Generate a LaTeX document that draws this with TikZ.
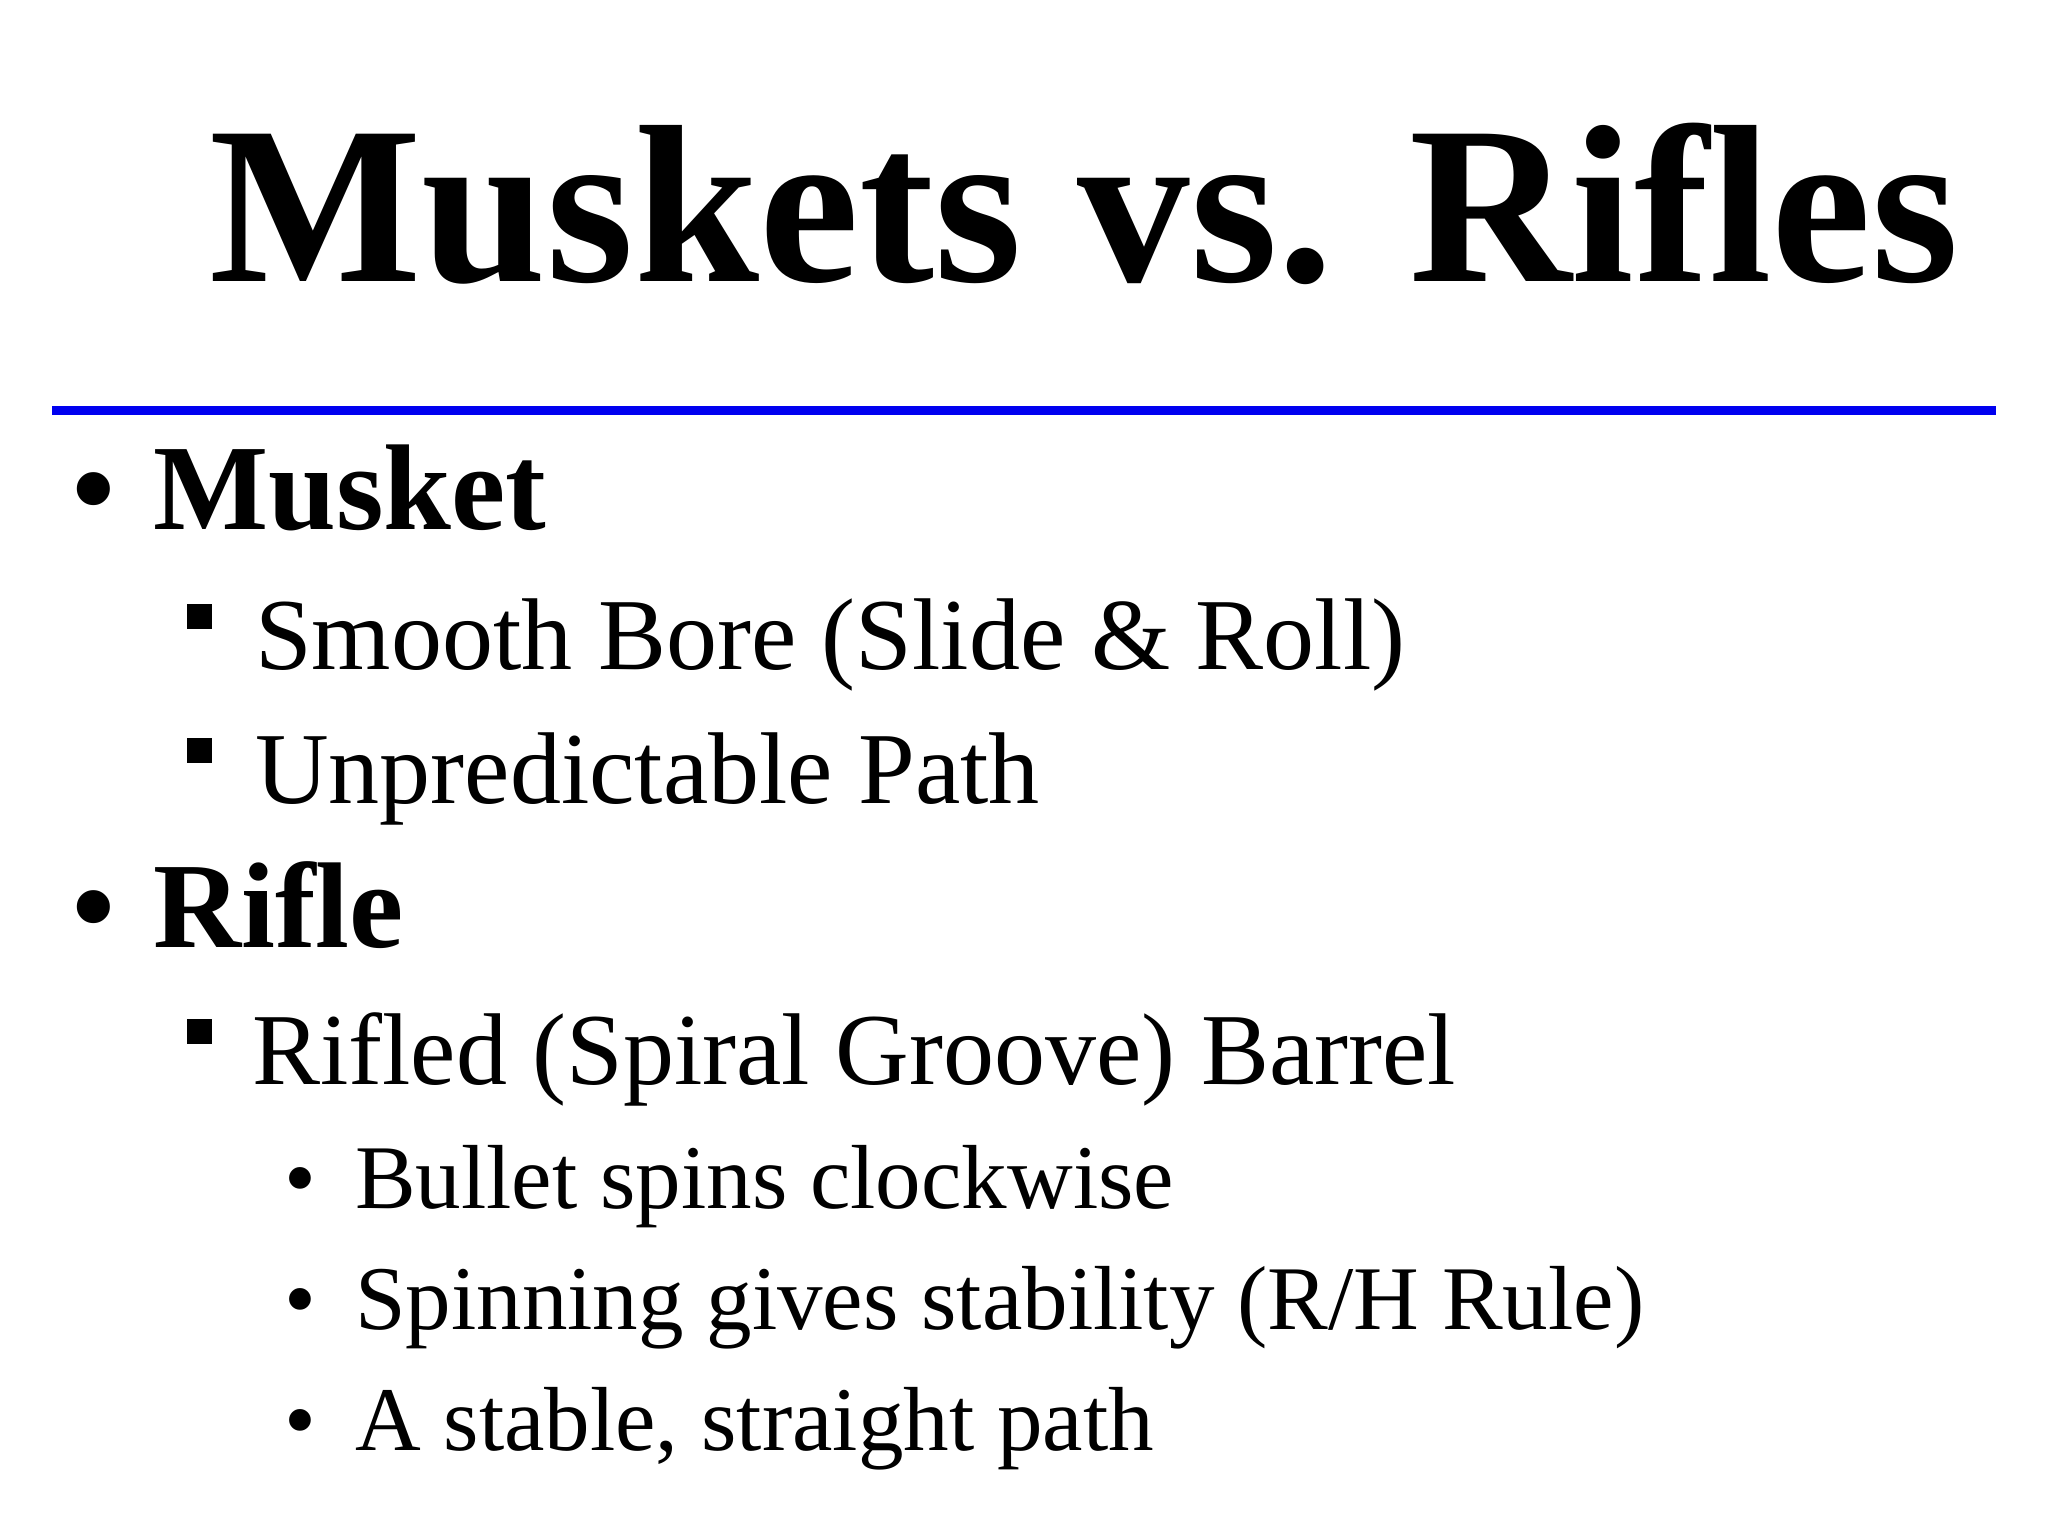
\documentclass[tikz,border=0pt]{standalone}
\usepackage{fontspec}
\setmainfont{Liberation Serif}
\begin{document}
\begin{tikzpicture}[x=1pt,y=-1pt,
  t/.style={anchor=base west,inner sep=0pt},
  lone/.style={t,font=\fontsize{122}{130}\selectfont\bfseries},
  ltwo/.style={t,font=\fontsize{102}{110}\selectfont},
  lthree/.style={t,font=\fontsize{91}{96}\selectfont},
  sq/.style={fill=black,inner sep=0pt,minimum size=25pt,anchor=center}]
\useasboundingbox[fill=white] (0,0) rectangle (2048,1536);
\node[t,font=\fontsize{225}{230}\selectfont\bfseries] (title) at (209,281) {Muskets vs. Rifles};
\draw[line width=9pt,draw={rgb,255:red,0;green,0;blue,240}] (52,410) -- (1996,410);
\node[lone] (b1) at (72,529) {\textbullet};
\node[lone] (musket) at (153,529) {Musket};
\node[sq] (s1) at (199,616) {};
\node[ltwo] (smooth) at (255,669) {Smooth Bore (Slide \& Roll)};
\node[sq] (s2) at (199,750) {};
\node[ltwo] (unpred) at (255,803) {Unpredictable Path};
\node[lone] (b2) at (72,947) {\textbullet};
\node[lone] (rifle) at (153,947) {Rifle};
\node[sq] (s3) at (199,1031) {};
\node[ltwo] (rifled) at (252,1084) {Rifled (Spiral Groove) Barrel};
\node[lthree] (c1) at (284,1208) {\textbullet};
\node[lthree] (bullet) at (355,1208) {Bullet spins clockwise};
\node[lthree] (c2) at (284,1329) {\textbullet};
\node[lthree] (spin) at (355,1329) {Spinning gives stability (R/H Rule)};
\node[lthree] (c3) at (284,1450) {\textbullet};
\node[lthree] (stable) at (355,1450) {A stable, straight path};
\end{tikzpicture}
\end{document}
